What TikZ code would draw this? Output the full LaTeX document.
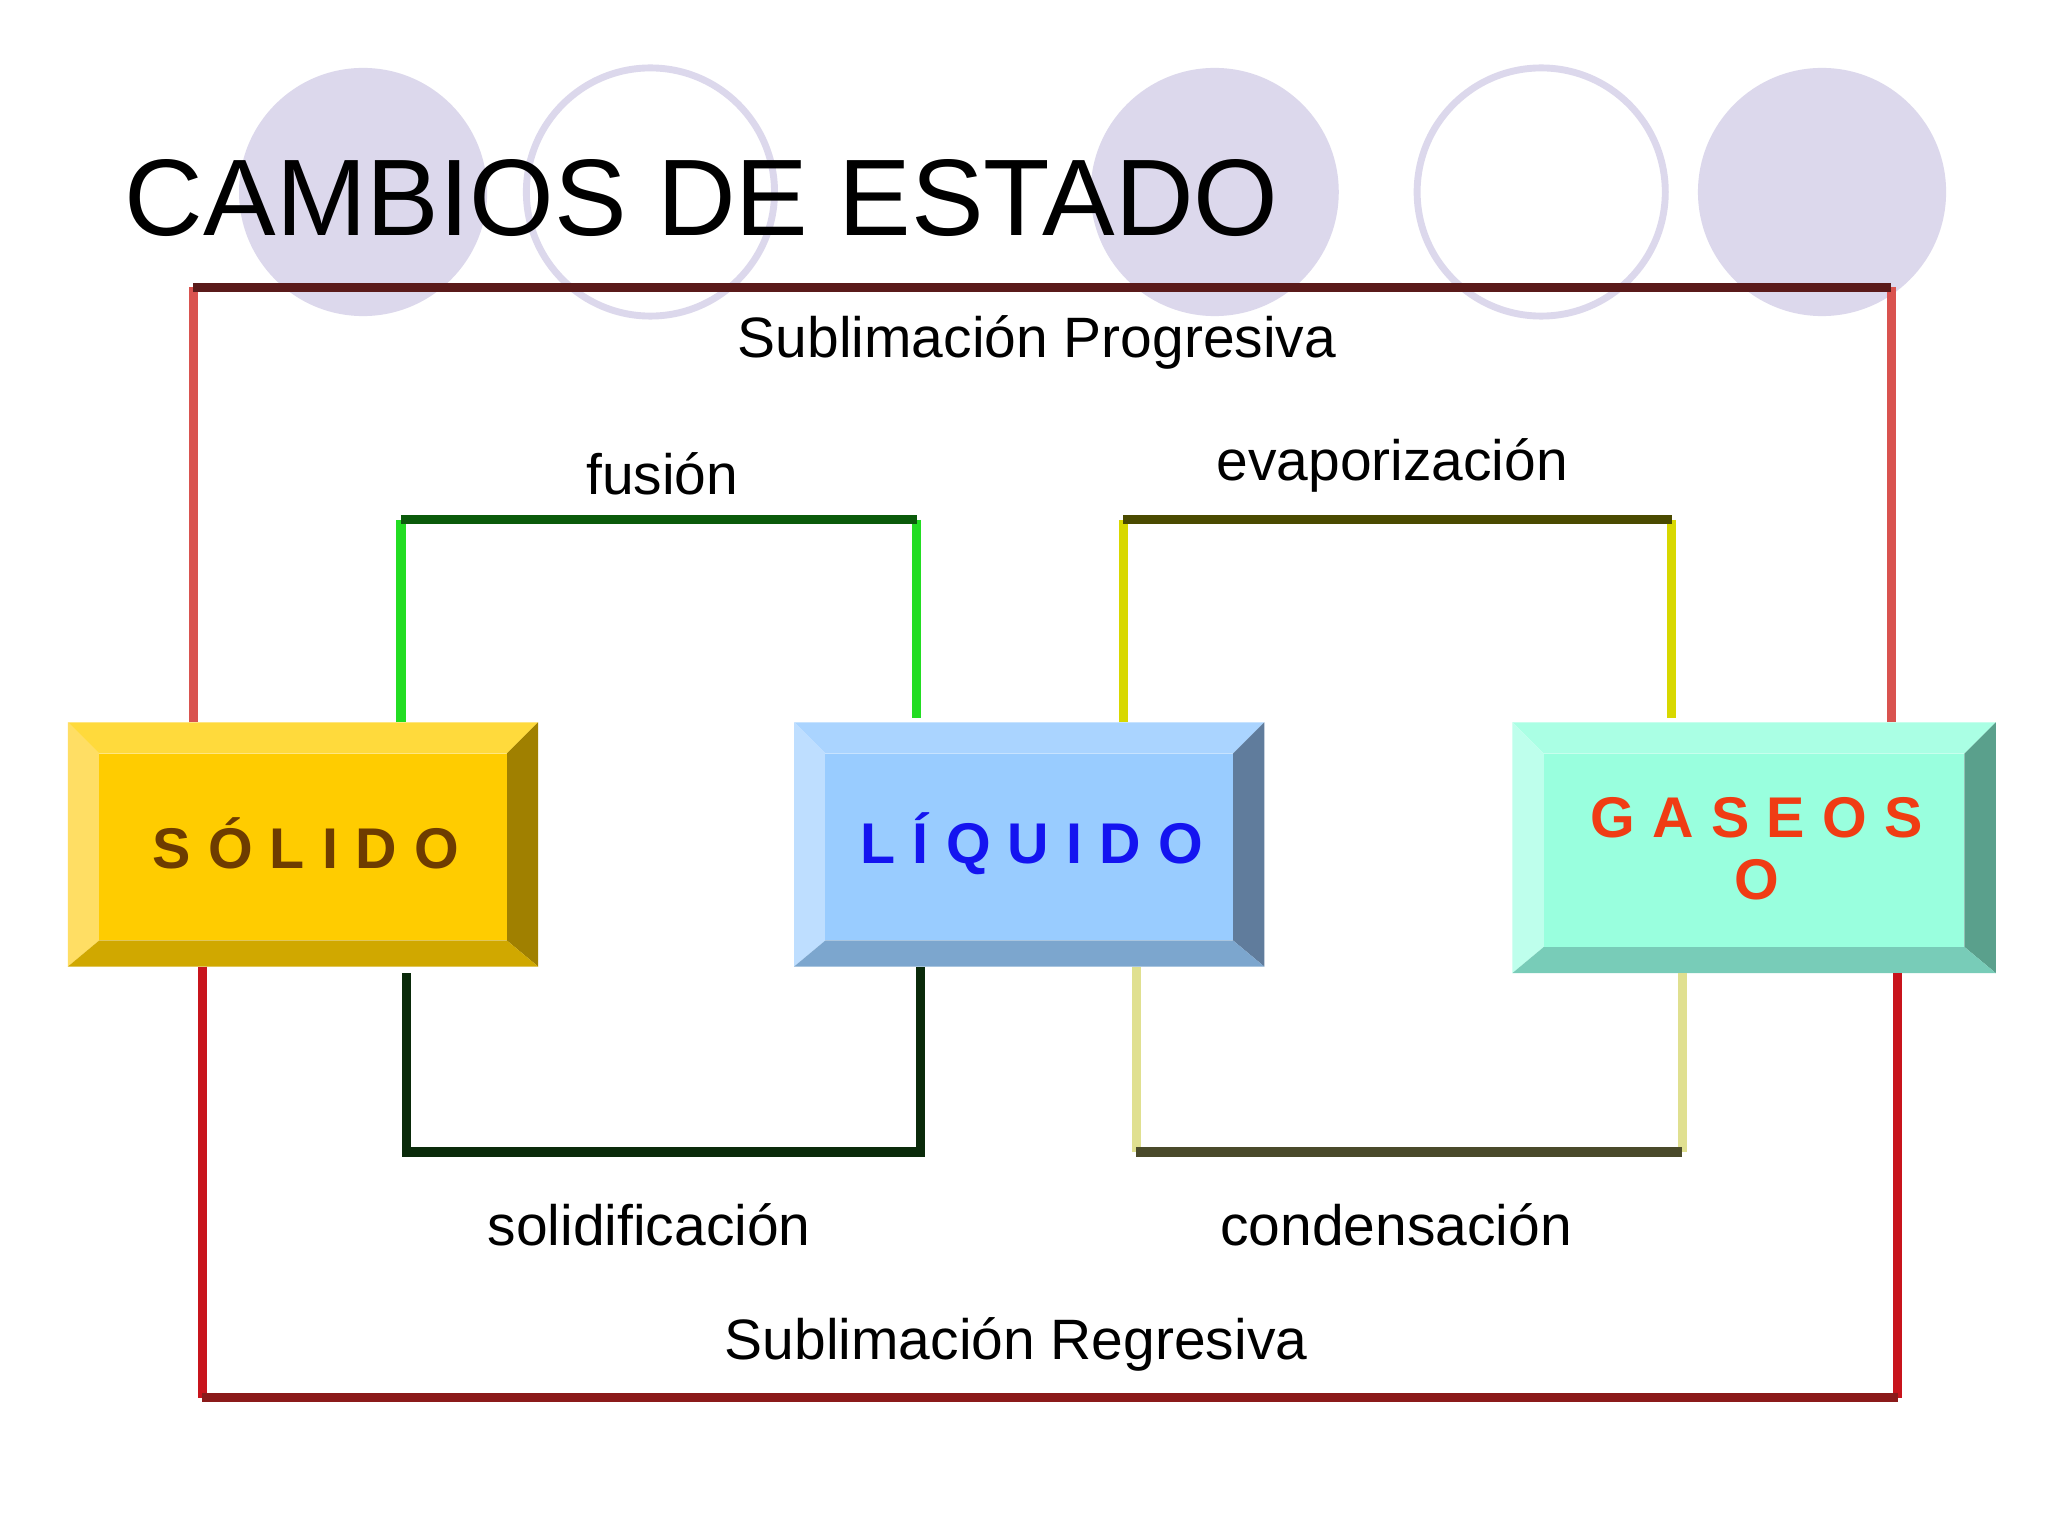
\documentclass[tikz,border=0pt]{standalone}
\usepackage{fontspec}
\setmainfont{Liberation Sans}
\begin{document}
\begin{tikzpicture}[x=0.01cm,y=-0.01cm,
  lab/.style={font=\fontsize{12.4pt}{15pt}\selectfont},
  ln/.style={line width=2pt},
  boxt/.style={font=\fontsize{12.5pt}{13.5pt}\selectfont\bfseries\addfontfeature{LetterSpace=30}, align=center},
  circo/.style={draw=lav, line width=1.5pt}]
\definecolor{lav}{HTML}{DCD8EC}
\definecolor{sF}{RGB}{255,204,0}\definecolor{sT}{RGB}{255,218,60}\definecolor{sL}{RGB}{255,222,100}\definecolor{sR}{RGB}{160,128,0}\definecolor{sB}{RGB}{208,168,0}
\definecolor{lF}{RGB}{153,204,255}\definecolor{lT}{RGB}{170,212,255}\definecolor{lL}{RGB}{190,222,255}\definecolor{lR}{RGB}{96,124,156}\definecolor{lB}{RGB}{124,166,206}
\definecolor{gF}{RGB}{153,255,222}\definecolor{gT}{RGB}{170,255,228}\definecolor{gL}{RGB}{190,255,236}\definecolor{gR}{RGB}{90,160,140}\definecolor{gB}{RGB}{120,204,184}
\definecolor{tS}{RGB}{110,60,0}\definecolor{tL}{RGB}{20,20,240}\definecolor{tG}{RGB}{240,60,20}
\definecolor{c1}{RGB}{217,83,79}\definecolor{c2}{RGB}{90,26,26}\definecolor{c3}{RGB}{200,20,28}\definecolor{c4}{RGB}{139,26,26}
\definecolor{c5}{RGB}{34,221,34}\definecolor{c6}{RGB}{10,90,10}\definecolor{c7}{RGB}{10,42,10}
\definecolor{c8}{RGB}{216,216,0}\definecolor{c9}{RGB}{74,74,0}\definecolor{c10}{RGB}{224,224,144}\definecolor{c11}{RGB}{74,74,42}
\useasboundingbox[fill=white] (0,0) rectangle (1568,1176);
\fill[lav] (278,147) circle (95);
\draw[circo] (498,147) circle (95);
\fill[lav] (930,147) circle (95);
\draw[circo] (1180,147) circle (95);
\fill[lav] (1395,147) circle (95);
\node[anchor=base west, inner sep=0, font=\fontsize{23.7pt}{28pt}\selectfont] (title) at (95,180) {CAMBIOS DE ESTADO};
\newcommand{\bevbox}[6]{%
  \fill[#6T] (#2,#3) -- (#4,#3) -- ({#4-24},{#3+24}) -- ({#2+24},{#3+24}) -- cycle;
  \fill[#6L] (#2,#3) -- ({#2+24},{#3+24}) -- ({#2+24},{#5-20}) -- (#2,#5) -- cycle;
  \fill[#6R] (#4,#3) -- ({#4-24},{#3+24}) -- ({#4-24},{#5-20}) -- (#4,#5) -- cycle;
  \fill[#6B] (#2,#5) -- ({#2+24},{#5-20}) -- ({#4-24},{#5-20}) -- (#4,#5) -- cycle;
  \fill[#6F] ({#2+24},{#3+24}) rectangle ({#4-24},{#5-20});
}
\bevbox{s}{52}{553}{412}{740}{s}
\bevbox{l}{608}{553}{968}{740}{l}
\bevbox{g}{1158}{553}{1528}{745}{g}
\node[boxt, text=tS] (sol) at (234,646) {SÓLIDO};
\node[boxt, text=tL] (liq) at (790,646) {LÍQUIDO};
\node[boxt, text=tG] (gas) at (1345,650) {GASEOS\\O};
\coordinate (a1) at (148,553); \coordinate (a2) at (148,220); \coordinate (a3) at (1448,220); \coordinate (a4) at (1448,553);
\draw[ln,c1] (a1) -- (a2) (a3) -- (a4);
\draw[ln,c2] (a2) -- (a3);
\coordinate (b1) at (155,740); \coordinate (b2) at (155,1070); \coordinate (b3) at (1453,1070); \coordinate (b4) at (1453,745);
\draw[ln,c3] (b1) -- (b2) (b3) -- (b4);
\draw[ln,c4] (b2) -- (b3);
\coordinate (f1) at (307,553); \coordinate (f2) at (307,398); \coordinate (f3) at (702,398); \coordinate (f4) at (702,550);
\draw[ln,c5] (f1) -- (f2) (f3) -- (f4);
\draw[ln,c6] (f2) -- (f3);
\coordinate (d1) at (311,745); \coordinate (d2) at (311,882); \coordinate (d3) at (705,882); \coordinate (d4) at (705,740);
\draw[ln,c7] (d1) -- (d2) -- (d3) -- (d4);
\coordinate (e1) at (860,553); \coordinate (e2) at (860,398); \coordinate (e3) at (1280,398); \coordinate (e4) at (1280,550);
\draw[ln,c8] (e1) -- (e2) (e3) -- (e4);
\draw[ln,c9] (e2) -- (e3);
\coordinate (k1) at (870,740); \coordinate (k2) at (870,882); \coordinate (k3) at (1288,882); \coordinate (k4) at (1288,745);
\draw[ln,c10] (k1) -- (k2) (k3) -- (k4);
\draw[ln,c11] (k2) -- (k3);
\node[lab] (lsp) at (794,262) {Sublimación Progresiva};
\node[lab] (lfu) at (507,363) {fusión};
\node[lab] (lev) at (1066,356) {evaporización};
\node[lab] (lso) at (497,938) {solidificación};
\node[lab] (lco) at (1069,938) {condensación};
\node[lab] (lsr) at (778,1029) {Sublimación Regresiva};
\end{tikzpicture}
\end{document}
